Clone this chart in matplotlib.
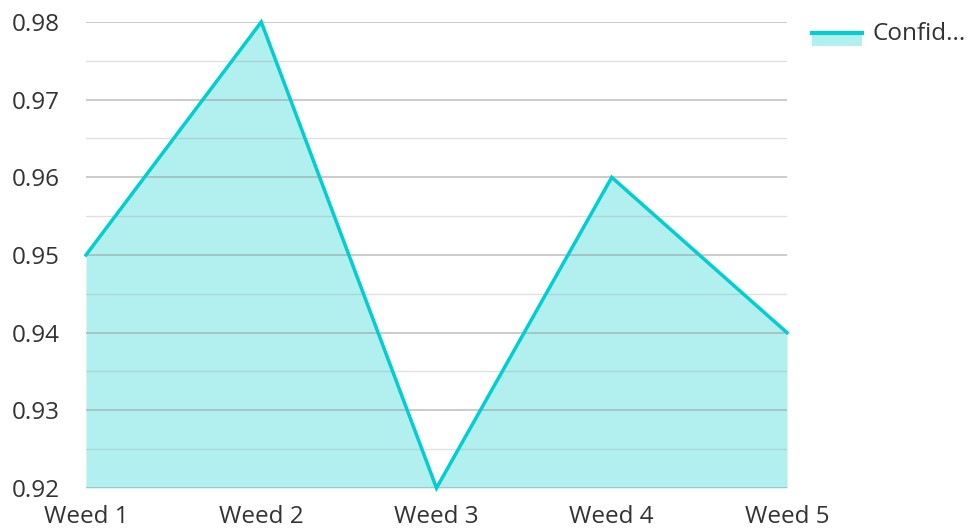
import matplotlib.pyplot as plt
from matplotlib.patches import Rectangle
from matplotlib.lines import Line2D
from matplotlib.ticker import MultipleLocator

plt.rcParams['font.family'] = ['Open Sans', 'DejaVu Sans']

# Dati del grafico
categories = ['Weed 1', 'Weed 2', 'Weed 3', 'Weed 4', 'Weed 5']
confidence = [0.95, 0.98, 0.92, 0.96, 0.94]
series_label = 'Confid...'

line_color = '#00ced1'
fill_color = '#b2efef'
text_color = '#333333'

W, H = 969, 529
fig = plt.figure(figsize=(W / 100, H / 100), dpi=100)
ax = fig.add_axes([86 / W, 1 - 488 / H, (787 - 86) / W, (488 - 22) / H])

x = list(range(len(categories)))
ax.fill_between(x, confidence, 0.92, color=fill_color, lw=0, zorder=1)
ax.plot(x, confidence, color=line_color, lw=2.5, zorder=3,
        solid_joinstyle='miter', clip_on=False)

ax.set_xlim(0, len(categories) - 1)
ax.set_ylim(0.92, 0.98)
ax.set_xticks(x)
ax.set_xticklabels(categories)
ax.yaxis.set_major_locator(MultipleLocator(0.01))
ax.yaxis.set_minor_locator(MultipleLocator(0.005))
ax.yaxis.set_major_formatter(lambda v, p: f'{v:.2f}')

ax.grid(axis='y', which='major', color='#9a9a9a', alpha=0.6, lw=1.2, zorder=2)
ax.grid(axis='y', which='minor', color='#9a9a9a', alpha=0.3, lw=1.0, zorder=2)
ax.set_axisbelow(False)
for s in ax.spines.values():
    s.set_visible(False)
ax.tick_params(axis='both', which='both', length=0, labelsize=17.5, colors=text_color)
ax.tick_params(axis='y', pad=19)
ax.tick_params(axis='x', pad=12)

# Legenda disegnata a mano
fig.patches.append(Rectangle((812 / W, 1 - 46 / H), 50 / W, 13 / H,
                             transform=fig.transFigure, facecolor=fill_color, lw=0))
fig.lines.append(Line2D([812 / W, 862 / W], [1 - 33 / H, 1 - 33 / H],
                        transform=fig.transFigure, color=line_color, lw=3))
fig.text(872 / W, 1 - 34 / H, series_label, fontsize=17.5, color=text_color, va='center')

fig.savefig('out.png', dpi=100)
